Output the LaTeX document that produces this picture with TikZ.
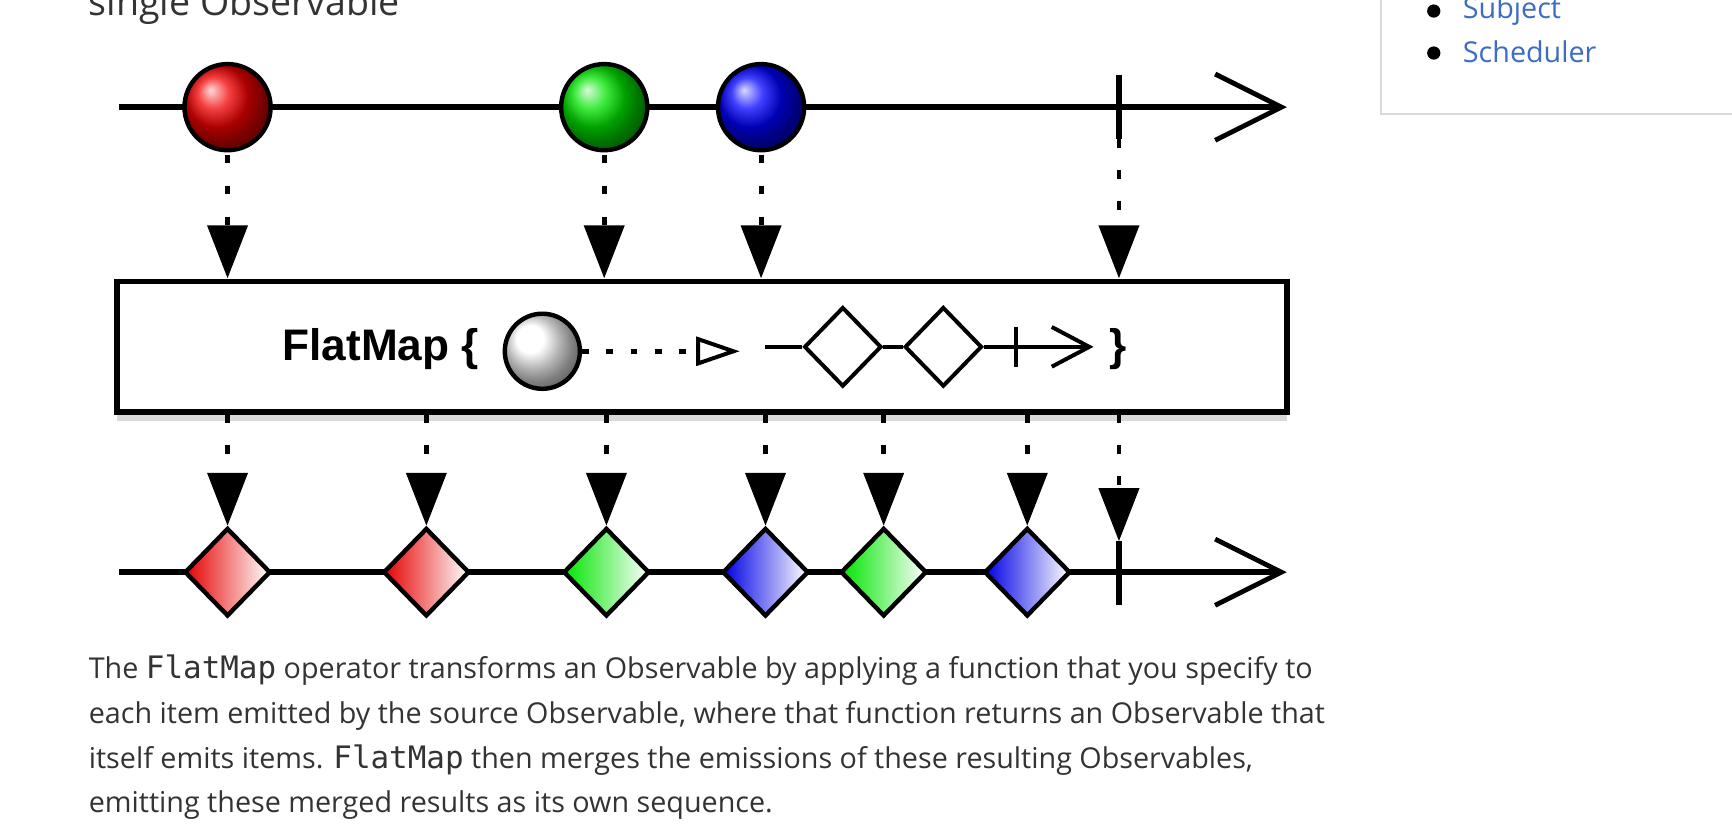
\documentclass[tikz,border=0pt]{standalone}
\usepackage{fontspec}
\setmainfont{Open Sans}
\newfontfamily\mono{DejaVu Sans Mono}
\newfontfamily\hv{Liberation Sans}
\usetikzlibrary{arrows.meta,shapes.geometric,shadows}
\definecolor{linkblue}{HTML}{3C6CC4}
\definecolor{txt}{HTML}{333333}
\begin{document}
\begin{tikzpicture}[x=0.5pt,y=-0.5pt,
  tl/.style={line width=2.5pt},
  openhead/.style={-{Straight Barb[length=30pt,width=30pt,line width=2.2pt]}},
  dot/.style={line width=2.2pt,dash pattern=on 4pt off 10pt,-{Triangle[length=24pt,width=18pt]}},
  ball/.style={circle,draw=black,line width=2pt,minimum width=39pt,inner sep=0pt,shading=ball},
  dia/.style={diamond,draw=black,line width=2pt,minimum width=39pt,minimum height=40pt,inner sep=0pt,shading angle=45},
  para/.style={anchor=base west,font=\fontsize{13pt}{15pt}\selectfont,text=txt,inner sep=0pt}]
\useasboundingbox (0,0) rectangle (1568,760);
% header & sidebar
\node[anchor=base west,font=\fontsize{17pt}{20pt}\selectfont,text=txt,inner sep=0pt] (h) at (80,14) {single Observable};
\draw[gray!30,line width=1pt] (1250,0) -- (1250,103) -- (1568,103);
\fill[black] (1298,10) circle (3pt) (1298,48) circle (3pt);
\node[anchor=base west,font=\fontsize{13pt}{15pt}\selectfont,text=linkblue,inner sep=0pt] (s1) at (1324,17) {Subject};
\node[anchor=base west,font=\fontsize{13pt}{15pt}\selectfont,text=linkblue,inner sep=0pt] (s2) at (1324,57) {Scheduler};
% top line
\coordinate (t0) at (108,97); \coordinate (t1) at (1165,97);
\draw[tl,openhead] (t0) -- (t1);
\draw[tl] (1013,68) -- (1013,126);
\node[ball,ball color=red!95!black] (r) at (206,97) {};
\node[ball,ball color=green!90!black] (g) at (547,97) {};
\node[ball,ball color=blue] (b) at (689,97) {};
\coordinate (tc) at (1013,126);
% box
\node[draw=black,line width=2.5pt,fill=white,minimum width=529.5pt,minimum height=59pt,drop shadow={opacity=0.3,shadow xshift=0pt,shadow yshift=-4pt}] (box) at (635.5,314) {};
\foreach \x/\n in {206/r,547/g,689/b}{\draw[dot] (\n.south) ++(0,2) -- (\x,252);}
\draw[dot] (tc) -- (1013,252);
% inside box
\node[anchor=east,font=\hv\bfseries\fontsize{20pt}{22pt}\selectfont,inner sep=0pt] (fm) at (434,316) {FlatMap \{};
\node[ball,ball color=white,minimum width=34pt] (wc) at (491,318) {};
\draw[line width=2.2pt,dash pattern=on 3pt off 8pt] (wc.east) -- (630,318);
\draw[line width=1.8pt,fill=white] (632,307) -- (664,318) -- (632,329) -- cycle;
\node[diamond,draw=black,line width=1.8pt,fill=white,minimum width=35pt,minimum height=36pt,inner sep=0pt] (d1) at (763,314) {};
\node[diamond,draw=black,line width=1.8pt,fill=white,minimum width=35pt,minimum height=36pt,inner sep=0pt] (d2) at (854,314) {};
\draw[line width=2pt] (693,314) -- (d1.west);
\draw[line width=2pt] (d1.east) -- (d2.west);
\draw[line width=2pt,-{Straight Barb[length=17pt,width=18pt,line width=1.8pt]}] (d2.east) -- (990,314);
\draw[line width=2pt] (920,296) -- (920,332);
\node[font=\hv\bfseries\fontsize{20pt}{22pt}\selectfont,inner sep=0pt] (cb) at (1012,316) {\}};
% bottom line
\draw[tl,openhead] (108,518) -- (1165,518);
\draw[tl] (1013,490) -- (1013,548);
\foreach \x/\c/\n in {206/red/d1b,386/red/d2b,549/green/d3b,693/blue/d4b,800/green/d5b,930/blue/d6b}{
  \node[dia,left color=\c!90!black,right color=white] (\n) at (\x,518) {};}
\foreach \x/\n in {206/d1b,386/d2b,549/d3b,693/d4b,800/d5b,930/d6b}{
  \draw[dot] (\x,375) -- (\n.north);}
\coordinate (bt) at (1013,490);
\draw[dot] (1013,375) -- (bt);
% paragraph
\node[para] (p1) at (80,614) {The {\mono\fontsize{14pt}{15pt}\selectfont FlatMap} operator transforms an Observable by applying a function that you specify to};
\node[para] (p2) at (80,655) {each item emitted by the source Observable, where that function returns an Observable that};
\node[para] (p3) at (80,696) {itself emits items. {\mono\fontsize{14pt}{15pt}\selectfont FlatMap} then merges the emissions of these resulting Observables,};
\node[para] (p4) at (80,736) {emitting these merged results as its own sequence.};
\end{tikzpicture}
\end{document}
